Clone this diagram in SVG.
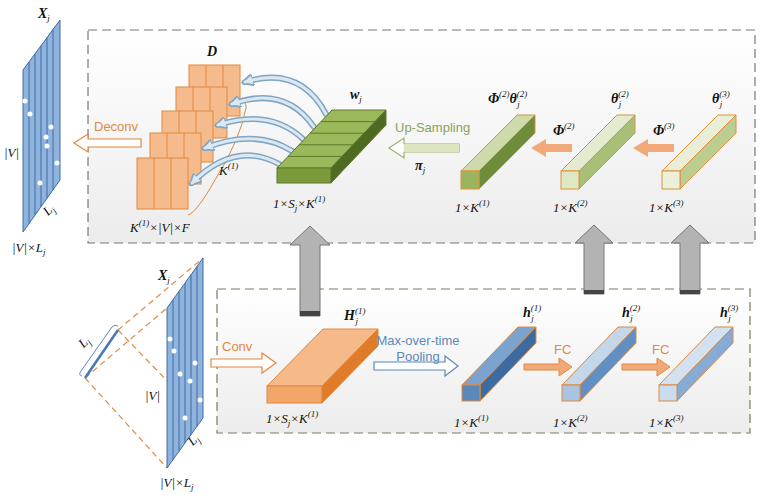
<svg xmlns="http://www.w3.org/2000/svg" width="769" height="495" viewBox="0 0 769 495">
<defs>
<linearGradient id="bg" x1="0" y1="0" x2="0" y2="1"><stop offset="0" stop-color="#ffffff"/><stop offset="1" stop-color="#ececec"/></linearGradient>
<marker id="cb" viewBox="0 0 10 10" refX="7" refY="5" markerWidth="2" markerHeight="2" orient="auto"><path d="M0,0 L10,5 L0,10 z" fill="#dbe8f1" stroke="#7fa6c4" stroke-width="1.5"/></marker>
</defs>
<style>
.box{fill:url(#bg);stroke:#777;stroke-width:1.2;stroke-dasharray:9,5}
.boxg{fill:url(#bg);stroke:#7a7a60;stroke-width:1.2;stroke-dasharray:9,5}
.m{font-family:"Liberation Serif",serif;font-style:italic;font-size:13px;fill:#111}
.mb{font-family:"Liberation Serif",serif;font-style:italic;font-weight:bold;font-size:14px;fill:#111}
.s{font-size:9px;font-weight:normal}
.lab{font-family:"Liberation Sans",Arial,sans-serif;font-size:13px}
.fr{fill:#f6bb8d;stroke:#e0893c;stroke-width:1}
.fl{stroke:#e0893c;stroke-width:1}
.pl{fill:#8fb3dc;stroke:#3d6da3;stroke-width:1}
.st{stroke:#3d6da3;stroke-width:1}
.dot{fill:#fff}
.dash{stroke:#e08a40;stroke-width:1.2;stroke-dasharray:6,4;fill:none}
</style>
<rect class="box" x="88" y="30" width="667" height="213"/>
<rect class="boxg" x="217" y="289" width="533" height="144"/>

<g id="xj-top">
<polygon class="pl" points="23,70 60,20 60,180 23,232"/>
<g class="st"><line x1="29" y1="61.9" x2="29" y2="223.6"/><line x1="35" y1="53.8" x2="35" y2="215.1"/><line x1="41" y1="45.7" x2="41" y2="206.7"/><line x1="47" y1="37.6" x2="47" y2="198.3"/><line x1="53" y1="29.5" x2="53" y2="189.8"/></g>
<g class="dot"><circle cx="25" cy="101" r="2.5"/><circle cx="30" cy="114" r="2.5"/><circle cx="51" cy="127" r="2.5"/><circle cx="46" cy="137" r="2.5"/><circle cx="47" cy="146" r="2.5"/><circle cx="57" cy="163" r="2.5"/><circle cx="40" cy="183" r="2.5"/></g>
<text class="mb" x="38" y="18">X<tspan class="s" dy="3">j</tspan></text>
<text class="m" x="4" y="157">|V|</text>
<text class="m" x="45" y="215" transform="rotate(-45 48 212)">L<tspan class="s" dy="3">j</tspan></text>
<text class="m" x="12" y="252">|V|×L<tspan class="s" dy="3">j</tspan></text>
</g>

<g id="deconv">
<polygon points="141,139 88,139 88,134 74,143 88,152 88,147 141,147" fill="#fff" stroke="#e0893c" stroke-width="1.2"/>
<text class="lab" x="94" y="131" fill="#e0893c">Deconv</text>
</g>

<g id="D">
<g><rect class="fr" x="189" y="65" width="51" height="51"/><line class="fl" x1="206" y1="65" x2="206" y2="116"/><line class="fl" x1="223" y1="65" x2="223" y2="116"/></g>
<g><rect class="fr" x="176" y="87" width="51" height="51"/><line class="fl" x1="193" y1="87" x2="193" y2="138"/><line class="fl" x1="210" y1="87" x2="210" y2="138"/></g>
<g><rect class="fr" x="162" y="111" width="51" height="51"/><line class="fl" x1="179" y1="111" x2="179" y2="162"/><line class="fl" x1="196" y1="111" x2="196" y2="162"/></g>
<g><rect class="fr" x="150" y="133" width="51" height="51"/><line class="fl" x1="167" y1="133" x2="167" y2="184"/><line class="fl" x1="184" y1="133" x2="184" y2="184"/></g>
<g><rect class="fr" x="137" y="158" width="51" height="51"/><line class="fl" x1="154" y1="158" x2="154" y2="209"/><line class="fl" x1="171" y1="158" x2="171" y2="209"/></g>
<path d="M188,215 Q197,212 215,180 Q240,140 246,108 Q246,100 241,99" fill="none" stroke="#e0893c" stroke-width="1"/>
<text class="mb" x="207" y="56" font-size="16">D</text>
<text class="m" x="219" y="175">K<tspan class="s" dy="-6">(1)</tspan></text>
<text class="m" x="130" y="232">K<tspan class="s" dy="-6">(1)</tspan><tspan dy="6">×|V|×F</tspan></text>
</g>

<g id="connectors">
<g fill="none" stroke-linecap="round">
<g stroke="#7fa6c4" stroke-width="6">
<path d="M326,114 Q300,65 245,82" marker-end="url(#cb)"/>
<path d="M314,127 Q285,85 232,104" marker-end="url(#cb)"/>
<path d="M303,139 Q270,108 218,125" marker-end="url(#cb)"/>
<path d="M292,151 Q255,128 205,148" marker-end="url(#cb)"/>
<path d="M279,164 Q235,140 192,183" marker-end="url(#cb)"/>
</g>
<g stroke="#dbe8f1" stroke-width="3">
<path d="M326,114 Q300,65 245,82"/>
<path d="M314,127 Q285,85 232,104"/>
<path d="M303,139 Q270,108 218,125"/>
<path d="M292,151 Q255,128 205,148"/>
<path d="M279,164 Q235,140 192,183"/>
</g>
</g>
<polygon points="459,144 404,144 404,138 389,148 404,158 404,152 459,152" fill="#fff" stroke="#9bb36a" stroke-width="1.2"/>
<polygon points="459,144 404,144 404,152 459,152" fill="#dbe6c0" stroke="none"/>
<polygon points="572,144 546,144 546,139 531,148 546,157 546,152 572,152" fill="#f2a97a"/>
<polygon points="674,144 648,144 648,139 633,148 648,157 648,152 674,152" fill="#f2a97a"/>
<polygon points="300,316 300,245 290,245 310,226 330,245 320,245 320,316" fill="#b3b3b3" stroke="#777"/>
<rect x="300" y="311" width="20" height="5" fill="#444"/>
<polygon points="584,294 584,243 575,243 594,225 613,243 604,243 604,294" fill="#b3b3b3" stroke="#777"/>
<rect x="584" y="290" width="20" height="4" fill="#444"/>
<polygon points="680,294 680,243 671,243 690,225 709,243 700,243 700,294" fill="#b3b3b3" stroke="#777"/>
<rect x="680" y="290" width="20" height="4" fill="#444"/>
<polygon points="211,359 262,359 262,353 276,363 262,373 262,367 211,367" fill="#fff" stroke="#e0893c" stroke-width="1.2"/>
<polygon points="374,362 445,362 445,356 458,366 445,376 445,370 374,370" fill="#fff" stroke="#5b88bb" stroke-width="1.2"/>
<polygon points="524,364 559,364 559,358 572,367 559,376 559,370 524,370" fill="#f2a97a" stroke="#e0893c"/>
<polygon points="622,364 657,364 657,358 670,367 657,376 657,370 622,370" fill="#f2a97a" stroke="#e0893c"/>
<path class="dash" d="M118,330 L203,258 M85,378 L167,308 M85,378 L167,468 M118,330 L203,418"/>
<line x1="85" y1="378" x2="118" y2="330" stroke="#4a78b4" stroke-width="2.5"/>
<path d="M82,376 Q78,375 81,371 L112,327 Q115,324 118,326" fill="none" stroke="#5b88bb" stroke-width="1"/>
</g>

<g id="wj">
<polygon points="277,168 331,168 386,110 332,110" fill="#9bb85a" stroke="#5c7a2c"/>
<g stroke="#5c7a2c"><line x1="288" y1="156.4" x2="342" y2="156.4"/><line x1="299" y1="144.8" x2="353" y2="144.8"/><line x1="310" y1="133.2" x2="364" y2="133.2"/><line x1="321" y1="121.6" x2="375" y2="121.6"/></g>
<rect x="277" y="168" width="54" height="15" fill="#7a9a3c" stroke="#5c7a2c"/>
<polygon points="331,168 386,110 386,125 331,183" fill="#4f6b22" stroke="#5c7a2c"/>
<text class="mb" x="350" y="99">w<tspan class="s" dy="3">j</tspan></text>
<text class="m" x="273" y="208">1×S<tspan class="s" dy="3">j</tspan><tspan dy="-3">×K</tspan><tspan class="s" dy="-6">(1)</tspan></text>
</g>
<g id="upsampling">
<text class="lab" x="395" y="132" fill="#8aa35a">Up-Sampling</text>
<text class="mb" x="415" y="170">π<tspan class="s" dy="3">j</tspan></text>
</g>

<g id="g1" stroke="#e0903a" stroke-width="1">
<polygon points="461,171 479,171 535,115 517,115" fill="#cddbaa"/><polygon points="479,171 535,115 535,133 479,189" fill="#6f8c3a"/><rect x="461" y="171" width="18" height="18" fill="#9ab55f"/>
<text class="mb" x="488" y="103" stroke="none">Φ<tspan class="s" dy="-6">(2)</tspan><tspan dy="6">θ</tspan><tspan class="s" dy="-6">(2)</tspan><tspan class="s" dx="-10" dy="10">j</tspan></text>
<text class="m" x="455" y="212" stroke="none">1×K<tspan class="s" dy="-6">(1)</tspan></text>
</g>
<g id="g2" stroke="#e0903a" stroke-width="1">
<polygon points="561,171 579,171 635,115 617,115" fill="#e4ebd0"/><polygon points="579,171 635,115 635,133 579,189" fill="#a9bf78"/><rect x="561" y="171" width="18" height="18" fill="#dfe8c4"/>
<text class="mb" x="611" y="103" stroke="none">θ<tspan class="s" dy="-6">(2)</tspan><tspan class="s" dx="-10" dy="10">j</tspan></text>
<text class="m" x="553" y="212" stroke="none">1×K<tspan class="s" dy="-6">(2)</tspan></text>
<text class="mb" x="553" y="135" stroke="none" font-size="12">Φ<tspan class="s" dy="-6">(2)</tspan></text>
</g>
<g id="g3" stroke="#e0903a" stroke-width="1">
<polygon points="662,171 680,171 736,115 718,115" fill="#e8eed7"/><polygon points="680,171 736,115 736,133 680,189" fill="#bccd92"/><rect x="662" y="171" width="18" height="18" fill="#eaf0da"/>
<text class="mb" x="712" y="103" stroke="none">θ<tspan class="s" dy="-6">(3)</tspan><tspan class="s" dx="-10" dy="10">j</tspan></text>
<text class="m" x="649" y="212" stroke="none">1×K<tspan class="s" dy="-6">(3)</tspan></text>
<text class="mb" x="653" y="135" stroke="none" font-size="12">Φ<tspan class="s" dy="-6">(3)</tspan></text>
</g>

<g id="xj-bottom">
<polygon class="pl" points="167,308 203,258 203,418 167,468"/>
<g class="st"><line x1="173" y1="299.7" x2="173" y2="459.7"/><line x1="179" y1="291.3" x2="179" y2="451.3"/><line x1="185" y1="283" x2="185" y2="443"/><line x1="191" y1="274.6" x2="191" y2="434.6"/><line x1="197" y1="266.3" x2="197" y2="426.3"/></g>
<g class="dot"><circle cx="170" cy="339" r="2.5"/><circle cx="174" cy="351" r="2.5"/><circle cx="180" cy="374" r="2.5"/><circle cx="195" cy="363" r="2.5"/><circle cx="190" cy="381" r="2.5"/><circle cx="200" cy="400" r="2.5"/><circle cx="185" cy="418" r="2.5"/></g>
<text class="mb" x="158" y="280">X<tspan class="s" dy="3">j</tspan></text>
<text class="m" x="78" y="345" transform="rotate(-45 85 340)">L<tspan class="s" dy="3">j</tspan></text>
<text class="m" x="145" y="400">|V|</text>
<text class="m" x="188" y="445" transform="rotate(-45 192 440)">L<tspan class="s" dy="3">j</tspan></text>
<text class="m" x="160" y="487">|V|×L<tspan class="s" dy="3">j</tspan></text>
</g>
<text class="lab" x="222" y="351" fill="#e0893c">Conv</text>

<g id="H">
<polygon points="267,386 322,386 378,329 323,329" fill="#f5b98a" stroke="#e0893c"/>
<rect x="267" y="386" width="55" height="17" fill="#f2a66a" stroke="#e0893c"/>
<polygon points="322,386 378,329 378,346 322,403" fill="#e07b2a" stroke="#e0893c"/>
<text class="mb" x="344" y="320">H<tspan class="s" dy="-6">(1)</tspan><tspan class="s" dx="-10" dy="10">j</tspan></text>
<text class="m" x="266" y="423">1×S<tspan class="s" dy="3">j</tspan><tspan dy="-3">×K</tspan><tspan class="s" dy="-6">(1)</tspan></text>
</g>
<g id="pool" fill="#5b88bb">
<text class="lab" x="418" y="345" text-anchor="middle">Max-over-time</text>
<text class="lab" x="418" y="361" text-anchor="middle">Pooling</text>
</g>

<g id="h1" stroke="#e0893c">
<polygon points="462,385 480,385 536,327 518,327" fill="#7aa3cf"/><polygon points="480,385 536,327 536,343 480,401" fill="#3d6aa0"/><rect x="462" y="385" width="18" height="16" fill="#5b88bb"/>
<text class="mb" x="523" y="317" stroke="none">h<tspan class="s" dy="-6">(1)</tspan><tspan class="s" dx="-10" dy="10">j</tspan></text>
<text class="m" x="454" y="427" stroke="none">1×K<tspan class="s" dy="-6">(1)</tspan></text>
</g>
<text class="lab" x="554" y="354" fill="#e0893c">FC</text>
<g id="h2" stroke="#e0893c">
<polygon points="562,385 580,385 636,327 618,327" fill="#c3d6ea"/><polygon points="580,385 636,327 636,343 580,401" fill="#5f8fc4"/><rect x="562" y="385" width="18" height="16" fill="#a9c4e2"/>
<text class="mb" x="622" y="317" stroke="none">h<tspan class="s" dy="-6">(2)</tspan><tspan class="s" dx="-10" dy="10">j</tspan></text>
<text class="m" x="553" y="427" stroke="none">1×K<tspan class="s" dy="-6">(2)</tspan></text>
</g>
<text class="lab" x="652" y="354" fill="#e0893c">FC</text>
<g id="h3" stroke="#e0893c">
<polygon points="659,385 677,385 733,327 715,327" fill="#d3e1f0"/><polygon points="677,385 733,327 733,343 677,401" fill="#86acd6"/><rect x="659" y="385" width="18" height="16" fill="#cbdcee"/>
<text class="mb" x="720" y="317" stroke="none">h<tspan class="s" dy="-6">(3)</tspan><tspan class="s" dx="-10" dy="10">j</tspan></text>
<text class="m" x="649" y="427" stroke="none">1×K<tspan class="s" dy="-6">(3)</tspan></text>
</g>
</svg>
